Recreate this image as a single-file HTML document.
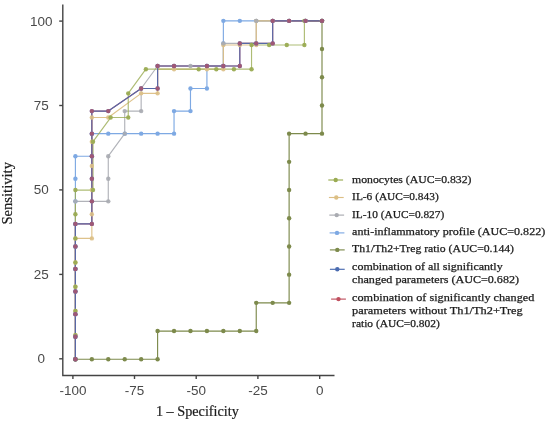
<!DOCTYPE html>
<html lang="en"><head><meta charset="utf-8"><title>ROC curves</title>
<style>html,body{margin:0;padding:0;background:#fff}svg{display:block}</style></head>
<body>
<svg width="550" height="425" viewBox="0 0 550 425">
<rect width="550" height="425" fill="#fff"/>
<g stroke="#444" stroke-width="1.4" fill="none">
<path d="M62.8 4.5V375.5H334.5"/>
<path d="M59.2 21.1H62.8"/>
<path d="M59.2 105.5H62.8"/>
<path d="M59.2 189.9H62.8"/>
<path d="M59.2 274.4H62.8"/>
<path d="M59.2 358.8H62.8"/>
<path d="M72.9 375.5V379"/>
<path d="M134.5 375.5V379"/>
<path d="M196.2 375.5V379"/>
<path d="M257.9 375.5V379"/>
<path d="M319.7 375.5V379"/>
</g>
<g font-family="'Liberation Sans', sans-serif" font-size="12.5" fill="#4a4a4a" text-anchor="middle">
<text transform="translate(41.3 25.55) scale(1.08 1)">100</text>
<text transform="translate(41.3 109.95) scale(1.08 1)">75</text>
<text transform="translate(41.3 194.35) scale(1.08 1)">50</text>
<text transform="translate(41.3 278.85) scale(1.08 1)">25</text>
<text transform="translate(41.3 363.25) scale(1.08 1)">0</text>
<text transform="translate(72.9 394.5) scale(1.08 1)">-100</text>
<text transform="translate(134.5 394.5) scale(1.08 1)">-75</text>
<text transform="translate(196.2 394.5) scale(1.08 1)">-50</text>
<text transform="translate(257.9 394.5) scale(1.08 1)">-25</text>
<text transform="translate(319.7 394.5) scale(1.08 1)">0</text>
</g>
<g font-family="'Liberation Serif', serif" fill="#1c1c1c" stroke="#1c1c1c" stroke-width="0.2">
<text font-size="14" textLength="62.6" lengthAdjust="spacingAndGlyphs" transform="translate(11.5 224.6) rotate(-90)">Sensitivity</text>
<text font-size="14" textLength="83" lengthAdjust="spacingAndGlyphs" x="155.9" y="416">1 – Specificity</text>
</g>
<g fill="none" stroke-width="1.15" stroke-linejoin="round">
<path id="l-anti" d="M75.4 359.25 L75.4 336.69 L75.4 314.13 L75.4 291.57 L75.4 269.01 L75.4 246.45 L75.4 223.89 L75.4 201.33 L75.4 178.77 L75.4 156.21 L91.84 156.21 L91.84 133.65 L108.28 133.65 L124.72 133.65 L141.16 133.65 L157.6 133.65 L174.04 133.65 L174.04 111.09 L190.48 111.09 L190.48 88.53 L206.92 88.53 L206.92 65.97 L223.36 65.97 L223.36 43.41 L223.36 20.85 L239.8 20.85 L256.24 20.85 L272.68 20.85 L289.12 20.85 L305.56 20.85 L322.0 20.85" stroke="#7ea9e3" stroke-opacity="1"/>
<path id="l-il10" d="M75.4 359.25 L75.4 336.69 L75.4 314.13 L75.4 291.57 L75.4 269.01 L75.4 246.45 L75.4 223.89 L75.4 201.33 L91.84 201.33 L108.28 201.33 L108.28 178.77 L108.28 156.21 L124.72 133.65 L124.72 111.09 L141.16 111.09 L141.16 88.53 L157.6 65.97 L174.04 65.97 L190.48 65.97 L206.92 65.97 L223.36 65.97 L223.36 43.41 L239.8 43.41 L256.24 43.41 L256.24 20.85 L272.68 20.85 L289.12 20.85 L305.56 20.85 L322.0 20.85" stroke="#a9abb1" stroke-opacity="0.9"/>
<path id="l-il6" d="M75.4 359.25 L75.4 335.08 L75.4 310.91 L75.4 286.74 L75.4 262.56 L75.4 238.39 L91.84 238.39 L91.84 214.22 L91.84 190.05 L91.84 165.88 L91.84 141.71 L91.84 117.54 L108.28 117.54 L141.16 93.36 L157.6 93.36 L157.6 69.19 L174.04 69.19 L190.48 69.19 L206.92 69.19 L223.36 69.19 L223.36 45.02 L239.8 45.02 L256.24 45.02 L256.24 20.85 L272.68 20.85 L289.12 20.85 L305.56 20.85 L322.0 20.85" stroke="#dcbf85" stroke-opacity="0.95"/>
<path id="l-mono" d="M75.4 359.25 L75.4 335.08 L75.4 310.91 L75.4 286.74 L75.4 262.56 L75.4 238.39 L75.4 214.22 L75.4 190.05 L93.01 190.05 L93.01 165.88 L93.01 141.71 L110.63 117.54 L128.24 117.54 L128.24 93.36 L145.86 69.19 L163.47 69.19 L181.09 69.19 L198.7 69.19 L216.31 69.19 L233.93 69.19 L251.54 69.19 L251.54 45.02 L269.16 45.02 L286.77 45.02 L304.39 45.02 L304.39 20.85 L322.0 20.85" stroke="#9aab52" stroke-opacity="0.8"/>
<path id="l-th" d="M75.4 359.25 L91.84 359.25 L108.28 359.25 L124.72 359.25 L141.16 359.25 L157.6 359.25 L157.6 331.05 L174.04 331.05 L190.48 331.05 L206.92 331.05 L223.36 331.05 L239.8 331.05 L256.24 331.05 L256.24 302.85 L272.68 302.85 L289.12 302.85 L289.12 274.65 L289.12 246.45 L289.12 218.25 L289.12 190.05 L289.12 161.85 L289.12 133.65 L305.56 133.65 L322.0 133.65 L322.0 105.45 L322.0 77.25 L322.0 49.05 L322.0 20.85" stroke="#7d8a4c" stroke-opacity="1"/>
<path id="l-wo" d="M75.4 359.25 L75.4 336.69 L75.4 314.13 L75.4 291.57 L75.4 269.01 L75.4 246.45 L75.4 223.89 L91.84 223.89 L91.84 201.33 L91.84 178.77 L91.84 156.21 L91.84 133.65 L91.84 111.09 L108.28 111.09 L141.16 88.53 L157.6 88.53 L157.6 65.97 L174.04 65.97 L190.48 65.97 L206.92 65.97 L223.36 65.97 L239.8 65.97 L239.8 43.41 L256.24 43.41 L272.68 43.41 L272.68 20.85 L289.12 20.85 L305.56 20.85 L322.0 20.85" stroke="#c0505f" stroke-opacity="1"/>
<path id="l-all" d="M75.4 359.25 L75.4 336.69 L75.4 314.13 L75.4 291.57 L75.4 269.01 L75.4 246.45 L75.4 223.89 L91.84 223.89 L91.84 201.33 L91.84 178.77 L91.84 156.21 L91.84 133.65 L91.84 111.09 L108.28 111.09 L141.16 88.53 L157.6 88.53 L157.6 65.97 L174.04 65.97 L190.48 65.97 L206.92 65.97 L223.36 65.97 L239.8 65.97 L239.8 43.41 L256.24 43.41 L272.68 43.41 L272.68 20.85 L289.12 20.85 L305.56 20.85 L322.0 20.85" stroke="#4a6bb0" stroke-opacity="0.9"/>
</g>
<g id="p-anti" fill="#7ea9e3" fill-opacity="1">
<circle cx="75.4" cy="359.25" r="2.2"/>
<circle cx="75.4" cy="336.69" r="2.2"/>
<circle cx="75.4" cy="314.13" r="2.2"/>
<circle cx="75.4" cy="291.57" r="2.2"/>
<circle cx="75.4" cy="269.01" r="2.2"/>
<circle cx="75.4" cy="246.45" r="2.2"/>
<circle cx="75.4" cy="223.89" r="2.2"/>
<circle cx="75.4" cy="201.33" r="2.2"/>
<circle cx="75.4" cy="178.77" r="2.2"/>
<circle cx="75.4" cy="156.21" r="2.2"/>
<circle cx="91.84" cy="156.21" r="2.2"/>
<circle cx="91.84" cy="133.65" r="2.2"/>
<circle cx="108.28" cy="133.65" r="2.2"/>
<circle cx="124.72" cy="133.65" r="2.2"/>
<circle cx="141.16" cy="133.65" r="2.2"/>
<circle cx="157.6" cy="133.65" r="2.2"/>
<circle cx="174.04" cy="133.65" r="2.2"/>
<circle cx="174.04" cy="111.09" r="2.2"/>
<circle cx="190.48" cy="111.09" r="2.2"/>
<circle cx="190.48" cy="88.53" r="2.2"/>
<circle cx="206.92" cy="88.53" r="2.2"/>
<circle cx="206.92" cy="65.97" r="2.2"/>
<circle cx="223.36" cy="65.97" r="2.2"/>
<circle cx="223.36" cy="43.41" r="2.2"/>
<circle cx="223.36" cy="20.85" r="2.2"/>
<circle cx="239.8" cy="20.85" r="2.2"/>
<circle cx="256.24" cy="20.85" r="2.2"/>
<circle cx="272.68" cy="20.85" r="2.2"/>
<circle cx="289.12" cy="20.85" r="2.2"/>
<circle cx="305.56" cy="20.85" r="2.2"/>
<circle cx="322.0" cy="20.85" r="2.2"/>
</g>
<g id="p-il6" fill="#dcbf85" fill-opacity="0.9">
<circle cx="75.4" cy="359.25" r="2.2"/>
<circle cx="75.4" cy="335.08" r="2.2"/>
<circle cx="75.4" cy="310.91" r="2.2"/>
<circle cx="75.4" cy="286.74" r="2.2"/>
<circle cx="75.4" cy="262.56" r="2.2"/>
<circle cx="75.4" cy="238.39" r="2.2"/>
<circle cx="91.84" cy="238.39" r="2.2"/>
<circle cx="91.84" cy="214.22" r="2.2"/>
<circle cx="91.84" cy="190.05" r="2.2"/>
<circle cx="91.84" cy="165.88" r="2.2"/>
<circle cx="91.84" cy="141.71" r="2.2"/>
<circle cx="91.84" cy="117.54" r="2.2"/>
<circle cx="108.28" cy="117.54" r="2.2"/>
<circle cx="141.16" cy="93.36" r="2.2"/>
<circle cx="157.6" cy="93.36" r="2.2"/>
<circle cx="174.04" cy="69.19" r="2.2"/>
<circle cx="206.92" cy="69.19" r="2.2"/>
<circle cx="223.36" cy="69.19" r="2.2"/>
<circle cx="223.36" cy="45.02" r="2.2"/>
<circle cx="239.8" cy="45.02" r="2.2"/>
<circle cx="256.24" cy="45.02" r="2.2"/>
<circle cx="256.24" cy="20.85" r="2.2"/>
<circle cx="272.68" cy="20.85" r="2.2"/>
<circle cx="289.12" cy="20.85" r="2.2"/>
<circle cx="305.56" cy="20.85" r="2.2"/>
<circle cx="322.0" cy="20.85" r="2.2"/>
</g>
<g id="p-mono" fill="#9aab52" fill-opacity="0.95">
<circle cx="75.4" cy="359.25" r="2.2"/>
<circle cx="75.4" cy="335.08" r="2.2"/>
<circle cx="75.4" cy="310.91" r="2.2"/>
<circle cx="75.4" cy="286.74" r="2.2"/>
<circle cx="75.4" cy="262.56" r="2.2"/>
<circle cx="75.4" cy="238.39" r="2.2"/>
<circle cx="75.4" cy="214.22" r="2.2"/>
<circle cx="75.4" cy="190.05" r="2.2"/>
<circle cx="93.01" cy="190.05" r="2.2"/>
<circle cx="93.01" cy="141.71" r="2.2"/>
<circle cx="110.63" cy="117.54" r="2.2"/>
<circle cx="128.24" cy="117.54" r="2.2"/>
<circle cx="128.24" cy="93.36" r="2.2"/>
<circle cx="145.86" cy="69.19" r="2.2"/>
<circle cx="198.7" cy="69.19" r="2.2"/>
<circle cx="216.31" cy="69.19" r="2.2"/>
<circle cx="233.93" cy="69.19" r="2.2"/>
<circle cx="251.54" cy="69.19" r="2.2"/>
<circle cx="251.54" cy="45.02" r="2.2"/>
<circle cx="269.16" cy="45.02" r="2.2"/>
<circle cx="286.77" cy="45.02" r="2.2"/>
<circle cx="304.39" cy="45.02" r="2.2"/>
<circle cx="304.39" cy="20.85" r="2.2"/>
<circle cx="322.0" cy="20.85" r="2.2"/>
</g>
<g id="p-il10" fill="#a9abb1" fill-opacity="0.9">
<circle cx="75.4" cy="359.25" r="2.2"/>
<circle cx="75.4" cy="336.69" r="2.2"/>
<circle cx="75.4" cy="314.13" r="2.2"/>
<circle cx="75.4" cy="291.57" r="2.2"/>
<circle cx="75.4" cy="269.01" r="2.2"/>
<circle cx="75.4" cy="246.45" r="2.2"/>
<circle cx="75.4" cy="223.89" r="2.2"/>
<circle cx="75.4" cy="201.33" r="2.2"/>
<circle cx="91.84" cy="201.33" r="2.2"/>
<circle cx="108.28" cy="201.33" r="2.2"/>
<circle cx="108.28" cy="178.77" r="2.2"/>
<circle cx="108.28" cy="156.21" r="2.2"/>
<circle cx="124.72" cy="133.65" r="2.2"/>
<circle cx="124.72" cy="111.09" r="2.2"/>
<circle cx="141.16" cy="111.09" r="2.2"/>
<circle cx="141.16" cy="88.53" r="2.2"/>
<circle cx="157.6" cy="65.97" r="2.2"/>
<circle cx="174.04" cy="65.97" r="2.2"/>
<circle cx="190.48" cy="65.97" r="2.2"/>
<circle cx="206.92" cy="65.97" r="2.2"/>
<circle cx="223.36" cy="65.97" r="2.2"/>
<circle cx="223.36" cy="43.41" r="2.2"/>
<circle cx="239.8" cy="43.41" r="2.2"/>
<circle cx="256.24" cy="43.41" r="2.2"/>
<circle cx="256.24" cy="20.85" r="2.2"/>
<circle cx="272.68" cy="20.85" r="2.2"/>
<circle cx="289.12" cy="20.85" r="2.2"/>
<circle cx="305.56" cy="20.85" r="2.2"/>
<circle cx="322.0" cy="20.85" r="2.2"/>
</g>
<g id="p-th" fill="#7d8a4c" fill-opacity="1">
<circle cx="75.4" cy="359.25" r="2.2"/>
<circle cx="91.84" cy="359.25" r="2.2"/>
<circle cx="108.28" cy="359.25" r="2.2"/>
<circle cx="124.72" cy="359.25" r="2.2"/>
<circle cx="141.16" cy="359.25" r="2.2"/>
<circle cx="157.6" cy="359.25" r="2.2"/>
<circle cx="157.6" cy="331.05" r="2.2"/>
<circle cx="174.04" cy="331.05" r="2.2"/>
<circle cx="190.48" cy="331.05" r="2.2"/>
<circle cx="206.92" cy="331.05" r="2.2"/>
<circle cx="223.36" cy="331.05" r="2.2"/>
<circle cx="239.8" cy="331.05" r="2.2"/>
<circle cx="256.24" cy="331.05" r="2.2"/>
<circle cx="256.24" cy="302.85" r="2.2"/>
<circle cx="272.68" cy="302.85" r="2.2"/>
<circle cx="289.12" cy="302.85" r="2.2"/>
<circle cx="289.12" cy="274.65" r="2.2"/>
<circle cx="289.12" cy="246.45" r="2.2"/>
<circle cx="289.12" cy="218.25" r="2.2"/>
<circle cx="289.12" cy="190.05" r="2.2"/>
<circle cx="289.12" cy="161.85" r="2.2"/>
<circle cx="289.12" cy="133.65" r="2.2"/>
<circle cx="305.56" cy="133.65" r="2.2"/>
<circle cx="322.0" cy="133.65" r="2.2"/>
<circle cx="322.0" cy="105.45" r="2.2"/>
<circle cx="322.0" cy="77.25" r="2.2"/>
<circle cx="322.0" cy="49.05" r="2.2"/>
<circle cx="322.0" cy="20.85" r="2.2"/>
</g>
<g id="p-all" fill="#4a6bb0" fill-opacity="1">
<circle cx="75.4" cy="359.25" r="2.2"/>
<circle cx="75.4" cy="336.69" r="2.2"/>
<circle cx="75.4" cy="314.13" r="2.2"/>
<circle cx="75.4" cy="291.57" r="2.2"/>
<circle cx="75.4" cy="269.01" r="2.2"/>
<circle cx="75.4" cy="246.45" r="2.2"/>
<circle cx="75.4" cy="223.89" r="2.2"/>
<circle cx="91.84" cy="223.89" r="2.2"/>
<circle cx="91.84" cy="201.33" r="2.2"/>
<circle cx="91.84" cy="178.77" r="2.2"/>
<circle cx="91.84" cy="156.21" r="2.2"/>
<circle cx="91.84" cy="133.65" r="2.2"/>
<circle cx="91.84" cy="111.09" r="2.2"/>
<circle cx="108.28" cy="111.09" r="2.2"/>
<circle cx="141.16" cy="88.53" r="2.2"/>
<circle cx="157.6" cy="88.53" r="2.2"/>
<circle cx="157.6" cy="65.97" r="2.2"/>
<circle cx="174.04" cy="65.97" r="2.2"/>
<circle cx="206.92" cy="65.97" r="2.2"/>
<circle cx="223.36" cy="65.97" r="2.2"/>
<circle cx="239.8" cy="65.97" r="2.2"/>
<circle cx="239.8" cy="43.41" r="2.2"/>
<circle cx="256.24" cy="43.41" r="2.2"/>
<circle cx="272.68" cy="43.41" r="2.2"/>
<circle cx="272.68" cy="20.85" r="2.2"/>
<circle cx="289.12" cy="20.85" r="2.2"/>
<circle cx="305.56" cy="20.85" r="2.2"/>
<circle cx="322.0" cy="20.85" r="2.2"/>
</g>
<g id="p-wo" fill="#c0505f" fill-opacity="0.72">
<circle cx="75.4" cy="359.25" r="2.2"/>
<circle cx="75.4" cy="336.69" r="2.2"/>
<circle cx="75.4" cy="314.13" r="2.2"/>
<circle cx="75.4" cy="291.57" r="2.2"/>
<circle cx="75.4" cy="269.01" r="2.2"/>
<circle cx="75.4" cy="246.45" r="2.2"/>
<circle cx="75.4" cy="223.89" r="2.2"/>
<circle cx="91.84" cy="223.89" r="2.2"/>
<circle cx="91.84" cy="201.33" r="2.2"/>
<circle cx="91.84" cy="178.77" r="2.2"/>
<circle cx="91.84" cy="156.21" r="2.2"/>
<circle cx="91.84" cy="133.65" r="2.2"/>
<circle cx="91.84" cy="111.09" r="2.2"/>
<circle cx="108.28" cy="111.09" r="2.2"/>
<circle cx="141.16" cy="88.53" r="2.2"/>
<circle cx="157.6" cy="88.53" r="2.2"/>
<circle cx="157.6" cy="65.97" r="2.2"/>
<circle cx="174.04" cy="65.97" r="2.2"/>
<circle cx="206.92" cy="65.97" r="2.2"/>
<circle cx="223.36" cy="65.97" r="2.2"/>
<circle cx="239.8" cy="65.97" r="2.2"/>
<circle cx="239.8" cy="43.41" r="2.2"/>
<circle cx="256.24" cy="43.41" r="2.2"/>
<circle cx="272.68" cy="43.41" r="2.2"/>
<circle cx="272.68" cy="20.85" r="2.2"/>
<circle cx="289.12" cy="20.85" r="2.2"/>
<circle cx="305.56" cy="20.85" r="2.2"/>
<circle cx="322.0" cy="20.85" r="2.2"/>
</g>
<g font-family="'Liberation Serif', serif" font-size="10.5" fill="#1c1c1c" stroke="#1c1c1c" stroke-width="0.25">
<path d="M328.3 180.0h14.8" stroke="#9aab52" stroke-width="1.15"/><circle cx="335.7" cy="180.0" r="2.2" fill="#9aab52" stroke="none"/>
<text x="352.1" y="183.1" textLength="119.4" lengthAdjust="spacingAndGlyphs">monocytes (AUC=0.832)</text>
<path d="M328.90000000000003 197.5h14.8" stroke="#dcbf85" stroke-width="1.15"/><circle cx="336.3" cy="197.5" r="2.2" fill="#dcbf85" stroke="none"/>
<text x="352.1" y="200.3" textLength="86.6" lengthAdjust="spacingAndGlyphs">IL-6 (AUC=0.843)</text>
<path d="M329.3 215.1h14.8" stroke="#a9abb1" stroke-width="1.15"/><circle cx="336.7" cy="215.1" r="2.2" fill="#a9abb1" stroke="none"/>
<text x="352.1" y="217.7" textLength="92.1" lengthAdjust="spacingAndGlyphs">IL-10 (AUC=0.827)</text>
<path d="M329.6 232.9h14.8" stroke="#7ea9e3" stroke-width="1.15"/><circle cx="337.0" cy="232.9" r="2.2" fill="#7ea9e3" stroke="none"/>
<text x="352.1" y="235.0" textLength="193.1" lengthAdjust="spacingAndGlyphs">anti-inflammatory profile (AUC=0.822)</text>
<path d="M329.90000000000003 249.9h14.8" stroke="#7d8a4c" stroke-width="1.15"/><circle cx="337.3" cy="249.9" r="2.2" fill="#7d8a4c" stroke="none"/>
<text x="352.1" y="252.2" textLength="161.9" lengthAdjust="spacingAndGlyphs">Th1/Th2+Treg ratio (AUC=0.144)</text>
<path d="M329.90000000000003 269.3h14.8" stroke="#4a6bb0" stroke-width="1.15"/><circle cx="337.3" cy="269.3" r="2.2" fill="#4a6bb0" stroke="none"/>
<text x="352.1" y="270.1" textLength="150.6" lengthAdjust="spacingAndGlyphs">combination of all significantly</text>
<text x="352.1" y="283.2" textLength="166.9" lengthAdjust="spacingAndGlyphs">changed parameters (AUC=0.682)</text>
<path d="M331.1 299.1h14.8" stroke="#c0505f" stroke-width="1.15"/><circle cx="338.5" cy="299.1" r="2.2" fill="#c0505f" stroke="none"/>
<text x="352.1" y="301.1" textLength="182.2" lengthAdjust="spacingAndGlyphs">combination of significantly changed</text>
<text x="352.1" y="313.8" textLength="170.6" lengthAdjust="spacingAndGlyphs">parameters without Th1/Th2+Treg</text>
<text x="352.1" y="326.9" textLength="87.7" lengthAdjust="spacingAndGlyphs">ratio (AUC=0.802)</text>
</g>
</svg>
</body></html>
